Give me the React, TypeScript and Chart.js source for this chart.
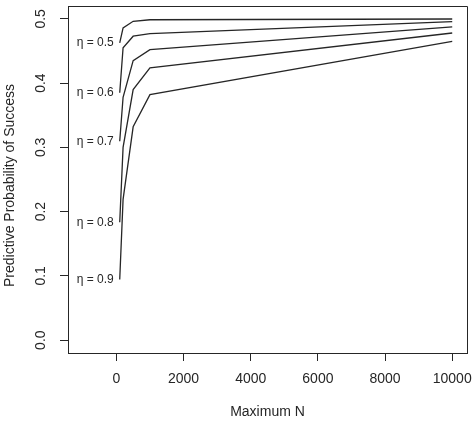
import React, { useEffect, useRef } from "react";
import { Chart, registerables } from "chart.js";

Chart.register(...registerables);

const MAX_N = [100, 200, 500, 1000, 10000];
const ETA_LABELS = ["η = 0.5", "η = 0.6", "η = 0.7", "η = 0.8", "η = 0.9"];
const ETA_05 = [0.4625, 0.486, 0.4962, 0.4986, 0.4998];
const ETA_06 = [0.385, 0.455, 0.473, 0.477, 0.4956];
const ETA_07 = [0.3095, 0.378, 0.435, 0.452, 0.4875];
const ETA_08 = [0.1835, 0.3, 0.39, 0.4237, 0.478];
const ETA_09 = [0.0945, 0.219, 0.332, 0.382, 0.465];
const SERIES = [ETA_05, ETA_06, ETA_07, ETA_08, ETA_09];
const X_TICKS = [0, 2000, 4000, 6000, 8000, 10000];
const Y_TICKS = [0, 0.1, 0.2, 0.3, 0.4, 0.5];

const INK = "#262626";
const FONT = "'Liberation Sans', Arial, sans-serif";

const textPlugin = {
  id: "rtexts",
  afterDraw(chart: any) {
    const { ctx, chartArea, scales } = chart;
    const { left, right, top, bottom } = chartArea;
    const xs = scales.x;
    const ys = scales.y;
    ctx.save();
    // box top and right
    ctx.strokeStyle = INK;
    ctx.lineWidth = 1;
    ctx.beginPath();
    ctx.moveTo(left, top + 0.5);
    ctx.lineTo(right + 0.5, top + 0.5);
    ctx.lineTo(right + 0.5, bottom);
    ctx.stroke();

    ctx.fillStyle = INK;
    ctx.font = `14px ${FONT}`;
    // x tick labels
    ctx.textAlign = "center";
    ctx.textBaseline = "middle";
    X_TICKS.forEach((v) => {
      ctx.fillText(String(v), xs.getPixelForValue(v), bottom + 26);
    });
    // x title
    ctx.fillText("Maximum N", (left + right) / 2, bottom + 59);
    // y tick labels (rotated)
    Y_TICKS.forEach((v) => {
      const py = ys.getPixelForValue(v);
      ctx.save();
      ctx.translate(left - 27, py);
      ctx.rotate(-Math.PI / 2);
      ctx.fillText(v.toFixed(1), 0, 0);
      ctx.restore();
    });
    // y title
    ctx.save();
    ctx.translate(left - 58, (top + bottom) / 2 + 6);
    ctx.rotate(-Math.PI / 2);
    ctx.fillText("Predictive Probability of Success", 0, 0);
    ctx.restore();
    // eta labels
    ctx.font = `12px ${FONT}`;
    ctx.textAlign = "right";
    SERIES.forEach((s, i) => {
      const px = xs.getPixelForValue(MAX_N[0]) - 6;
      const py = ys.getPixelForValue(s[0]);
      ctx.fillText(ETA_LABELS[i], px, py);
    });
    ctx.restore();
  },
};

export default function App() {
  const ref = useRef<HTMLCanvasElement | null>(null);
  useEffect(() => {
    if (!ref.current) return;
    const chart = new Chart(ref.current, {
      type: "line",
      data: {
        datasets: SERIES.map((s, i) => ({
          label: ETA_LABELS[i],
          data: s.map((v, j) => ({ x: MAX_N[j], y: v })),
          borderColor: INK,
          borderWidth: 1.3,
          pointRadius: 0,
          tension: 0,
          fill: false,
        })),
      },
      options: {
        animation: false,
        responsive: false,
        maintainAspectRatio: false,
        layout: { padding: { top: 6, right: 7, left: 0, bottom: 0 } },
        plugins: { legend: { display: false }, tooltip: { enabled: false } },
        scales: {
          x: {
            type: "linear",
            min: -1440,
            max: 10440,
            afterBuildTicks: (s: any) => {
              s.ticks = X_TICKS.map((v) => ({ value: v }));
            },
            afterFit: (s: any) => {
              s.height = 69;
            },
            ticks: { display: false },
            grid: { drawOnChartArea: false, drawTicks: true, tickLength: 8, color: INK, lineWidth: 1 },
            border: { display: true, color: INK, width: 1 },
          },
          y: {
            type: "linear",
            min: -0.02,
            max: 0.52,
            afterBuildTicks: (s: any) => {
              s.ticks = Y_TICKS.map((v) => ({ value: v }));
            },
            afterFit: (s: any) => {
              s.width = 68;
            },
            ticks: { display: false },
            grid: { drawOnChartArea: false, drawTicks: true, tickLength: 8, color: INK, lineWidth: 1 },
            border: { display: true, color: INK, width: 1 },
          },
        },
      },
      plugins: [textPlugin],
    });
    return () => chart.destroy();
  }, []);
  return (
    <div style={{ position: "fixed", left: 0, top: 0, width: 474, height: 422, background: "#fff" }}>
      <canvas ref={ref} width={474} height={422} style={{ width: 474, height: 422, display: "block" }} />
    </div>
  );
}
